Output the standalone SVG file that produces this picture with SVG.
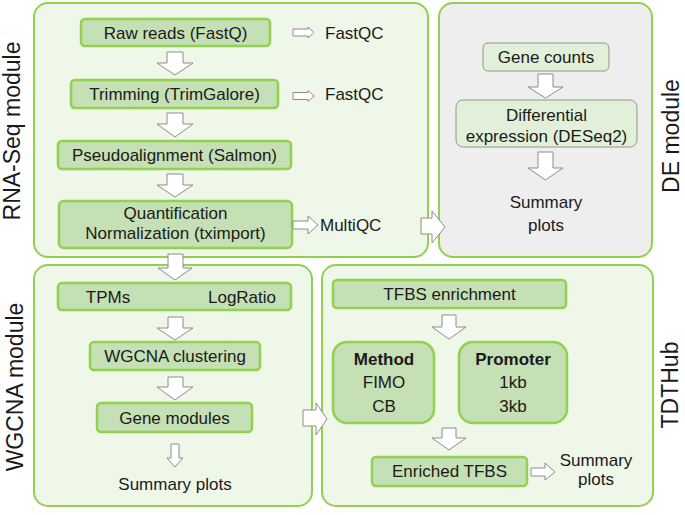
<svg xmlns="http://www.w3.org/2000/svg" width="685" height="515" viewBox="0 0 685 515">
<defs>
<style>
.mod{fill:#eff7e8;stroke:#92d050;stroke-width:2}
.modg{fill:#eeeeee;stroke:#92d050;stroke-width:2}
.node{fill:#c5e0b4;stroke:#92d050;stroke-width:2.5}
.nodel{fill:#e2f0d9;stroke:#8c9a84;stroke-width:1}
.arr{fill:#ffffff;stroke:#8c8c8c;stroke-width:1}
text{font-family:"Liberation Sans",Arial,sans-serif;font-size:17px;fill:#1a1a1a}
.c{text-anchor:middle}
.lab{font-size:23px;text-anchor:middle}
.b{font-weight:bold}
</style>
</defs>
<rect width="685" height="515" fill="#ffffff"/>

<g id="rnaseq-module">
<rect class="mod" x="34" y="3" width="394" height="254" rx="14"/>
<text class="lab" transform="translate(20,131) rotate(-90)">RNA-Seq module</text>
</g>
<g id="de-module">
<rect class="modg" x="439" y="3" width="213" height="254" rx="14"/>
<text class="lab" transform="translate(679,136) rotate(-90)">DE module</text>
</g>
<g id="wgcna-module">
<rect class="mod" x="34" y="265" width="278" height="241" rx="14"/>
<text class="lab" transform="translate(23,387) rotate(-90)">WGCNA module</text>
</g>
<g id="tdthub-module">
<rect class="mod" x="322" y="265" width="331" height="241" rx="14"/>
<text class="lab" transform="translate(678,385) rotate(-90)">TDTHub</text>
</g>

<g id="raw-reads"><rect class="node" x="81" y="19" width="189" height="27" rx="4"/><text class="c" x="175.5" y="38.5">Raw reads (FastQ)</text></g>
<g id="fastqc-1"><text x="325" y="38.5">FastQC</text></g>
<g id="trimming"><rect class="node" x="71" y="80" width="207" height="28" rx="4"/><text class="c" x="174.5" y="100">Trimming (TrimGalore)</text></g>
<g id="fastqc-2"><text x="325" y="100">FastQC</text></g>
<g id="pseudoalignment"><rect class="node" x="58" y="141" width="233" height="28" rx="4"/><text class="c" x="174.5" y="161">Pseudoalignment (Salmon)</text></g>
<g id="quantification"><rect class="node" x="59" y="201" width="233" height="47" rx="5"/><text class="c" x="175.5" y="219">Quantification</text><text class="c" x="175.5" y="239">Normalization (tximport)</text></g>
<g id="multiqc"><text x="320" y="231">MultiQC</text></g>

<g id="gene-counts"><rect class="nodel" x="483" y="43" width="126" height="28" rx="5"/><text class="c" x="546" y="63">Gene counts</text></g>
<g id="differential-expression"><rect class="nodel" x="456" y="100" width="181" height="47" rx="7"/><text class="c" x="546.5" y="121">Differential</text><text class="c" x="546.5" y="142">expression (DESeq2)</text></g>
<g id="de-summary"><text class="c" x="546" y="208">Summary</text><text class="c" x="546" y="231">plots</text></g>

<g id="tpms-logratio"><rect class="node" x="58" y="283" width="233" height="27" rx="4"/><text class="c" x="108" y="302.5">TPMs</text><text class="c" x="242" y="302.5">LogRatio</text></g>
<g id="wgcna-clustering"><rect class="node" x="90" y="342" width="170" height="28" rx="4"/><text class="c" x="175" y="362">WGCNA clustering</text></g>
<g id="gene-modules"><rect class="node" x="97" y="403" width="155" height="29" rx="4"/><text class="c" x="174.5" y="423.5">Gene modules</text></g>
<g id="wgcna-summary"><text class="c" x="175" y="490">Summary plots</text></g>

<g id="tfbs-enrichment"><rect class="node" x="333" y="280" width="233" height="28" rx="4"/><text class="c" x="449.5" y="300">TFBS enrichment</text></g>
<g id="method"><rect class="node" x="333" y="342" width="101" height="81" rx="14"/><text class="c b" x="384" y="365">Method</text><text class="c" x="384" y="388">FIMO</text><text class="c" x="384" y="412">CB</text></g>
<g id="promoter"><rect class="node" x="459" y="342" width="108" height="81" rx="14"/><text class="c b" x="513" y="365">Promoter</text><text class="c" x="513" y="388">1kb</text><text class="c" x="513" y="412">3kb</text></g>
<g id="enriched-tfbs"><rect class="node" x="372" y="457" width="155" height="29" rx="4"/><text class="c" x="449.5" y="477">Enriched TFBS</text></g>
<g id="tdt-summary"><text class="c" x="596" y="466">Summary</text><text class="c" x="596" y="485">plots</text></g>

<g id="connectors">
<path class="arr" d="M167,52H183V63H193L175,75L157,63H167Z"/>
<path class="arr" d="M167,113H183V124H193L175,137L157,124H167Z"/>
<path class="arr" d="M167,174H183V185H193L175,197L157,185H167Z"/>
<path class="arr" d="M293,29H308V27L314,32.5L308,38V36H293Z"/>
<path class="arr" d="M293,92.5H308V90.5L314,96L308,101.5V99.5H293Z"/>
<path class="arr" d="M293,221H308V216L318,225L308,234V229H293Z"/>
<path class="arr" d="M421,218H432V211L445,227L432,243V234H421Z"/>
<path class="arr" d="M168,254H183V268H192L175,280L158,268H168Z"/>
<path class="arr" d="M538,74H553V87H563L545.5,98L528,87H538Z"/>
<path class="arr" d="M538,152H553V168H563L545.5,180L528,168H538Z"/>
<path class="arr" d="M168,317H183V328H193L175,340L157,328H168Z"/>
<path class="arr" d="M168,377H183V387H193L175,400L157,387H168Z"/>
<path class="arr" d="M171,444H179V458H183L175,467L167,458H171Z"/>
<path class="arr" d="M303,410H316V403L327,419L316,435V426H303Z"/>
<path class="arr" d="M442,315H456V327H466L449,339L432,327H442Z"/>
<path class="arr" d="M442,428H456V438H466L449,450L432,438H442Z"/>
<path class="arr" d="M531,468H545V463L555,472L545,480V476H531Z"/>
</g>
</svg>
